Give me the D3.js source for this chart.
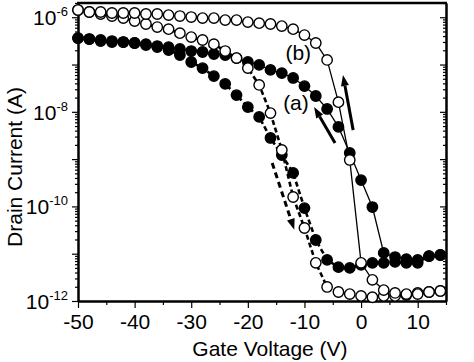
<!DOCTYPE html>
<html>
<head>
<meta charset="utf-8">
<script src="https://cdn.jsdelivr.net/npm/d3@7/dist/d3.min.js"></script>
<style>
  body { margin:0; background:#fff; }
  text { font-family:"Liberation Sans", Arial, Helvetica, sans-serif; fill:#000; }
  .domain { stroke:#000; stroke-width:2; }
  .tick line { stroke:#000; stroke-width:1.2; }
</style>
</head>
<body>
<div id="chart"></div>
<script>
// gate voltage (V), one point every 2 V
const gateVoltage=[-50,-48,-46,-44,-42,-40,-38,-36,-34,-32,-30,-28,-26,-24,-22,-20,-18,-16,-14,-12,-10,-8,-6,-4,-2,0,2,4,6,8,10,12,14];

// (b) open circles, solid = forward sweep
const bForward=[1.42e-6,1.29e-6,1.29e-6,1.23e-6,1.23e-6,1.23e-6,1.17e-6,1.17e-6,1.11e-6,1.06e-6,1.01e-6,9.6e-7,9.6e-7,8.7e-7,8.7e-7,7.9e-7,7.5e-7,7.2e-7,6.5e-7,5.6e-7,4.2e-7,2.85e-7,1.25e-7,1.6e-8,9.6e-10,6.4e-12,2.8e-12,1.7e-12,1.48e-12,1.4e-12,1.4e-12,1.55e-12,1.63e-12];
// (b) open circles, dashed = reverse sweep
const bReverse=[1.42e-6,1.29e-6,1.17e-6,1.06e-6,9.6e-7,8.3e-7,7.2e-7,6.2e-7,5.6e-7,4.6e-7,3.8e-7,3.3e-7,2.7e-7,1.93e-7,1.37e-7,8.4e-8,3.7e-8,9.4e-9,1.56e-9,1.58e-10,3.5e-11,6.4e-12,1.98e-12,1.55e-12,1.4e-12,1.28e-12,1.2e-12,1.28e-12,1.28e-12,1.34e-12,1.48e-12,1.55e-12,1.63e-12];
// (a) filled circles, solid
const aForward=[3.63e-7,3.46e-7,3.30e-7,3.14e-7,2.99e-7,2.85e-7,2.71e-7,2.46e-7,2.34e-7,2.13e-7,1.93e-7,1.84e-7,1.67e-7,1.59e-7,1.37e-7,1.13e-7,9.8e-8,7.7e-8,6.6e-8,5.2e-8,3.5e-8,2.16e-8,1.15e-8,4.8e-9,1.35e-9,3.6e-10,9.7e-11,1.04e-11,8.5e-12,7.7e-12,7.4e-12,8.9e-12,9.4e-12];
// (a) filled circles, dashed
const aReverse=[3.63e-7,3.46e-7,3.14e-7,2.99e-7,2.99e-7,2.85e-7,2.58e-7,2.34e-7,2.03e-7,1.59e-7,1.13e-7,8.4e-8,5.7e-8,3.9e-8,2.26e-8,1.26e-8,7.8e-9,2.8e-9,1.22e-9,5.1e-10,9.2e-11,1.95e-11,7.4e-12,5.2e-12,5.0e-12,5.8e-12,6.4e-12,6.4e-12,6.7e-12,6.4e-12,6.4e-12,8.9e-12,9.4e-12];

const xTicks=[-50,-40,-30,-20,-10,0,10];
const xMinorTicks=[-45,-35,-25,-15,-5,5,15];
const yLabelExp=[-12,-10,-8,-6];
const arrows=[ // [v0,i0,v1,i1,dashed]
  [-15.7,8.3e-10,-11.8,3.2e-11,true],
  [-1.4,4.1e-9,-3.2,6.0e-8,false],
  [-4.6,2.2e-9,-8.3,1.26e-8,false]
];
const curveLabels=[["(b)",-11.1,1.8e-7],["(a)",-11.5,1.55e-8]];

const width=474, height=362;
const svg=d3.select("#chart").append("svg").attr("width",width).attr("height",height);

const x=d3.scaleLinear().domain([-50,15]).range([78,446]);
const y=d3.scaleLog().domain([1e-12,2e-6]).range([301,3]);

// y ticks
let yMajor=[], yMinor=[];
for (let e=-12; e<=-6; e++) {
  yMajor.push(Math.pow(10,e));
  for (let k=2; k<=9; k++) {
    const v=k*Math.pow(10,e);
    if (v<=2e-6) yMinor.push(v);
  }
}

// left axis
svg.append("g").attr("transform","translate(78,0)")
  .call(d3.axisLeft(y).tickValues(yMinor).tickSize(3).tickSizeOuter(0).tickFormat(""));
svg.append("g").attr("transform","translate(78,0)")
  .call(d3.axisLeft(y).tickValues(yMajor).tickSize(6).tickSizeOuter(0).tickFormat(""));
// right frame, ticks inward
svg.append("g").attr("transform","translate(446,0)")
  .call(d3.axisLeft(y).tickValues(yMinor).tickSize(3).tickSizeOuter(0).tickFormat(""))
  .select(".domain").attr("stroke-width",1.5);
svg.append("g").attr("transform","translate(446,0)")
  .call(d3.axisLeft(y).tickValues(yMajor).tickSize(6).tickSizeOuter(0).tickFormat(""))
  .select(".domain").attr("stroke-width",1.5);
// top frame
svg.append("line").attr("x1",77).attr("x2",447).attr("y1",3).attr("y2",3)
  .attr("stroke","#000").attr("stroke-width",2.5);

// bottom axis
svg.append("g").attr("transform","translate(0,301)")
  .call(d3.axisBottom(x).tickValues(xMinorTicks).tickSize(4).tickSizeOuter(0).tickFormat(""));
const xAxis=svg.append("g").attr("transform","translate(0,301)")
  .call(d3.axisBottom(x).tickValues(xTicks).tickSize(7).tickSizeOuter(0).tickFormat(d=>d));
xAxis.selectAll(".tick text").attr("font-size",21).attr("y",13).attr("dy","0.71em")
  .style("font-family","'Liberation Sans', Arial, sans-serif").attr("fill","#000");

// y tick labels 10^n
yLabelExp.forEach(e=>{
  const t=svg.append("text").attr("x",68).attr("y",y(Math.pow(10,e))+8)
    .attr("text-anchor","end").attr("font-size",21);
  t.append("tspan").text("10");
  t.append("tspan").attr("font-size",13).attr("dy",-9).text(e);
});

// axis titles
svg.append("text").attr("x",270).attr("y",356).attr("text-anchor","middle")
  .attr("font-size",21).text("Gate Voltage (V)");
svg.append("text").attr("transform","translate(22,167) rotate(-90)")
  .attr("text-anchor","middle").attr("font-size",21).text("Drain Current (A)");

const line=d3.line().x(d=>x(d[0])).y(d=>y(d[1]));
const pts=arr=>gateVoltage.map((v,i)=>[v,arr[i]]);

const series=[
  {data:aReverse, dashed:true, filled:true},
  {data:bReverse, dashed:true, filled:false},
  {data:aForward, dashed:false, filled:true},
  {data:bForward, dashed:false, filled:false}
];

series.forEach(s=>{
  svg.append("path").datum(pts(s.data)).attr("d",line)
    .attr("fill","none").attr("stroke","#000")
    .attr("stroke-width",s.dashed?2.6:1.3)
    .attr("stroke-dasharray",s.dashed?"5,3":null);
});

// arrows
arrows.forEach(([v0,i0,v1,i1,dashed])=>{
  const x0=x(v0), y0=y(i0), x1=x(v1), y1=y(i1);
  const ang=Math.atan2(y1-y0,x1-x0);
  const len=11, half=4;
  const bx=x1-len*Math.cos(ang), by=y1-len*Math.sin(ang);
  svg.append("line").attr("x1",x0).attr("y1",y0).attr("x2",bx).attr("y2",by)
    .attr("stroke","#000").attr("stroke-width",3)
    .attr("stroke-dasharray",dashed?"6,4":null);
  const px=-Math.sin(ang), py=Math.cos(ang);
  svg.append("path")
    .attr("d",`M${x1},${y1}L${bx+px*half},${by+py*half}L${bx-px*half},${by-py*half}Z`)
    .attr("fill","#000");
});

// markers: filled first, open on top
series.filter(s=>s.filled).concat(series.filter(s=>!s.filled)).forEach(s=>{
  svg.append("g").selectAll("circle").data(pts(s.data)).join("circle")
    .attr("cx",d=>x(d[0])).attr("cy",d=>y(d[1])).attr("r",5.2)
    .attr("fill",s.filled?"#000":"#fff").attr("stroke","#000").attr("stroke-width",1.4);
});

curveLabels.forEach(([t,v,c])=>{
  svg.append("text").attr("x",x(v)).attr("y",y(c)).attr("dy","0.35em")
    .attr("text-anchor","middle").attr("font-size",21).text(t);
});
</script>
</body>
</html>
